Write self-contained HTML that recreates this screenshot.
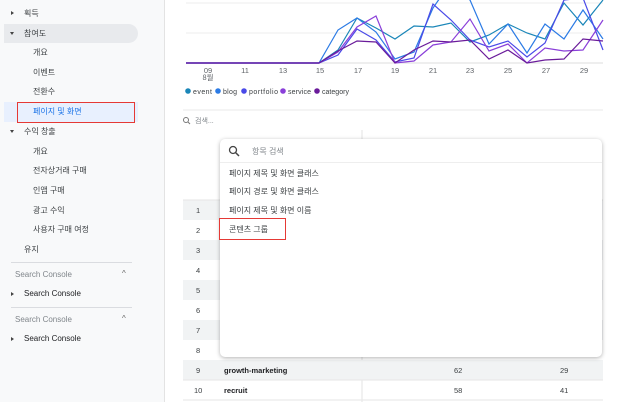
<!DOCTYPE html>
<html><head><meta charset="utf-8"><style>
*{margin:0;padding:0;box-sizing:border-box}
body{width:618px;height:402px;overflow:hidden;background:#fff;font-family:"Liberation Sans","Noto Sans CJK KR",sans-serif;position:relative;color:#3c4043}
.sb{position:absolute;left:0;top:0;width:165px;height:402px;background:#f8f9fa;border-right:1px solid #e3e3e3}
.t{position:absolute;font-size:8px;white-space:nowrap}
.a{position:absolute;width:0;height:0}
.ar{border-top:2.5px solid transparent;border-bottom:2.5px solid transparent;border-left:3px solid #444}
.ad{border-left:2.5px solid transparent;border-right:2.5px solid transparent;border-top:3px solid #444}
.abs{position:absolute}
</style></head><body>
<div class="sb">
<div class="abs" style="left:4px;top:24px;width:134px;height:19px;background:#e8eaed;border-radius:0 10px 10px 0"></div>
<div class="abs" style="left:4px;top:102px;width:134px;height:20px;background:#e8f0fe"></div>
<div class="abs" style="left:17px;top:102px;width:118px;height:21px;border:1.5px solid #e53935"></div>
<div class="a ar" style="left:11px;top:11px"></div><div class="t" style="left:24px;top:8px">획득</div>
<div class="a ad" style="left:10px;top:32px"></div><div class="t" style="left:24px;top:28px">참여도</div>
<div class="t" style="left:33px;top:47px">개요</div>
<div class="t" style="left:33px;top:67px">이벤트</div>
<div class="t" style="left:33px;top:86px">전환수</div>
<div class="t" style="left:33px;top:106px;color:#1a73e8">페이지 및 화면</div>
<div class="a ad" style="left:10px;top:130px"></div><div class="t" style="left:24px;top:126px">수익 창출</div>
<div class="t" style="left:33px;top:146px">개요</div>
<div class="t" style="left:33px;top:165px">전자상거래 구매</div>
<div class="t" style="left:33px;top:185px">인앱 구매</div>
<div class="t" style="left:33px;top:205px">광고 수익</div>
<div class="t" style="left:33px;top:224px">사용자 구매 여정</div>
<div class="t" style="left:24px;top:244px">유지</div>
<div class="abs" style="left:11px;top:262px;width:121px;height:1px;background:#dadce0"></div>
<div class="t" style="left:15px;top:270px;color:#80868b">Search Console</div>
<div class="t" style="left:122px;top:269px;color:#666">^</div>
<div class="a ar" style="left:11px;top:292px"></div><div class="t" style="left:24px;top:289px;color:#202124">Search Console</div>
<div class="abs" style="left:11px;top:307px;width:121px;height:1px;background:#dadce0"></div>
<div class="t" style="left:15px;top:315px;color:#80868b">Search Console</div>
<div class="t" style="left:122px;top:314px;color:#666">^</div>
<div class="a ar" style="left:11px;top:337px"></div><div class="t" style="left:24px;top:334px;color:#202124">Search Console</div>
</div>

<svg class="abs" style="left:0;top:0" width="618" height="402">
<line x1="186" y1="3" x2="603" y2="3" stroke="#eee"/>
<line x1="186" y1="33" x2="603" y2="33" stroke="#eee"/>
<line x1="186" y1="63" x2="603" y2="63" stroke="#ddd"/>
<g fill="none" stroke-width="1.2">
<polyline stroke="#1a86b8" points="186,63 319,63 338,50 357,18 376,28 395,39 414,26 433,27 451,23 470,42 489,35 508,24 527,33 545,39 564,3 583,25 603,0"/>
<polyline stroke="#2c7be5" points="186,63 319,63 338,30 357,18 376,32 395,59 414,52 433,8 442,-5 463,-5 470,0 489,44 508,24 527,53 545,24 564,39 583,10 603,39"/>
<polyline stroke="#4a4ae8" points="186,63 319,63 338,55 357,29 376,40 395,62 414,58 433,4 451,20 470,40 489,47 508,41 527,57 545,43 564,0 583,-2 603,50"/>
<polyline stroke="#8a3fd9" points="186,63 319,63 338,52 357,27 376,16 395,63 414,61 433,45 451,42 470,19 489,51 508,44 527,63 545,48 564,51 583,50 603,20"/>
<polyline stroke="#6a1b9a" points="186,63 319,63 338,51 357,41 376,42 395,63 414,50 433,41 451,42 470,40 489,59 508,50 527,63 545,60 564,59 583,39 603,41"/>
</g>
<g font-size="7.5" fill="#5f6368" text-anchor="middle" font-family="Liberation Sans,sans-serif">
<text x="208" y="73">09</text><text x="208" y="80" font-family="Noto Sans CJK KR">8월</text>
<text x="245" y="73">11</text><text x="283" y="73">13</text><text x="320" y="73">15</text><text x="358" y="73">17</text>
<text x="395" y="73">19</text><text x="433" y="73">21</text><text x="470" y="73">23</text><text x="508" y="73">25</text>
<text x="546" y="73">27</text><text x="584" y="73">29</text>
</g>
<g font-size="7" fill="#3c4043" font-family="Liberation Sans,sans-serif">
<circle cx="188" cy="91" r="2.8" fill="#1a86b8"/><text x="193" y="94" textLength="19">event</text>
<circle cx="218" cy="91" r="2.8" fill="#2c7be5"/><text x="223" y="94" textLength="14">blog</text>
<circle cx="244" cy="91" r="2.8" fill="#4a4ae8"/><text x="249" y="94" textLength="29">portfolio</text>
<circle cx="283" cy="91" r="2.8" fill="#8a3fd9"/><text x="288" y="94" textLength="23">service</text>
<circle cx="317" cy="91" r="2.8" fill="#6a1b9a"/><text x="322" y="94" textLength="27">category</text>
</g>
<line x1="183" y1="110" x2="603" y2="110" stroke="#e8e8e8"/>
<circle cx="186" cy="120" r="2.5" fill="none" stroke="#777"/><line x1="188" y1="122" x2="190" y2="124" stroke="#777"/>
<line x1="362" y1="130" x2="362" y2="402" stroke="#e3e3e3"/>
<g fill="#f1f3f4">
<rect x="183" y="200" width="420" height="20"/><rect x="183" y="240" width="420" height="20"/><rect x="183" y="280" width="420" height="20"/><rect x="183" y="320" width="420" height="20"/><rect x="183" y="360" width="420" height="20"/>
</g>
<g stroke="#e6e6e6"><line x1="183" y1="200" x2="603" y2="200"/><line x1="183" y1="380" x2="603" y2="380"/><line x1="183" y1="400" x2="603" y2="400"/></g>
<g font-size="7.5" fill="#3c4043" font-family="Liberation Sans,sans-serif">
<text x="196" y="213">1</text><text x="196" y="233">2</text><text x="196" y="253">3</text><text x="196" y="273">4</text><text x="196" y="293">5</text><text x="196" y="313">6</text><text x="196" y="333">7</text><text x="196" y="353">8</text><text x="196" y="373">9</text><text x="194" y="393">10</text>
<text x="224" y="373" font-weight="bold" fill="#202124">growth-marketing</text>
<text x="224" y="393" font-weight="bold" fill="#202124">recruit</text>
<text x="454" y="373">62</text><text x="454" y="393">58</text>
<text x="560" y="373">29</text><text x="560" y="393">41</text>
</g>
</svg>
<div class="t" style="left:195px;top:116px;color:#80868b;font-size:7px">검색...</div>

<div class="abs" style="left:220px;top:139px;width:382px;height:218px;background:#fff;border-radius:5px;box-shadow:0 1px 4px rgba(0,0,0,.3)">
<svg class="abs" style="left:8px;top:6px" width="12" height="12"><circle cx="5" cy="5" r="3.5" fill="none" stroke="#444" stroke-width="1.3"/><line x1="7.5" y1="7.5" x2="11" y2="11" stroke="#444" stroke-width="1.5"/></svg>
<div class="t" style="left:32px;top:7px;color:#80868b">항목 검색</div>
<div class="abs" style="left:0;top:23px;width:382px;height:1px;background:#eee"></div>
<div class="t" style="left:9px;top:29px">페이지 제목 및 화면 클래스</div>
<div class="t" style="left:9px;top:47px">페이지 경로 및 화면 클래스</div>
<div class="t" style="left:9px;top:66px">페이지 제목 및 화면 이름</div>
<div class="t" style="left:9px;top:85px">콘텐츠 그룹</div>
<div class="abs" style="left:-1px;top:79px;width:67px;height:22px;border:1.5px solid #e53935"></div>
</div>
</body></html>
